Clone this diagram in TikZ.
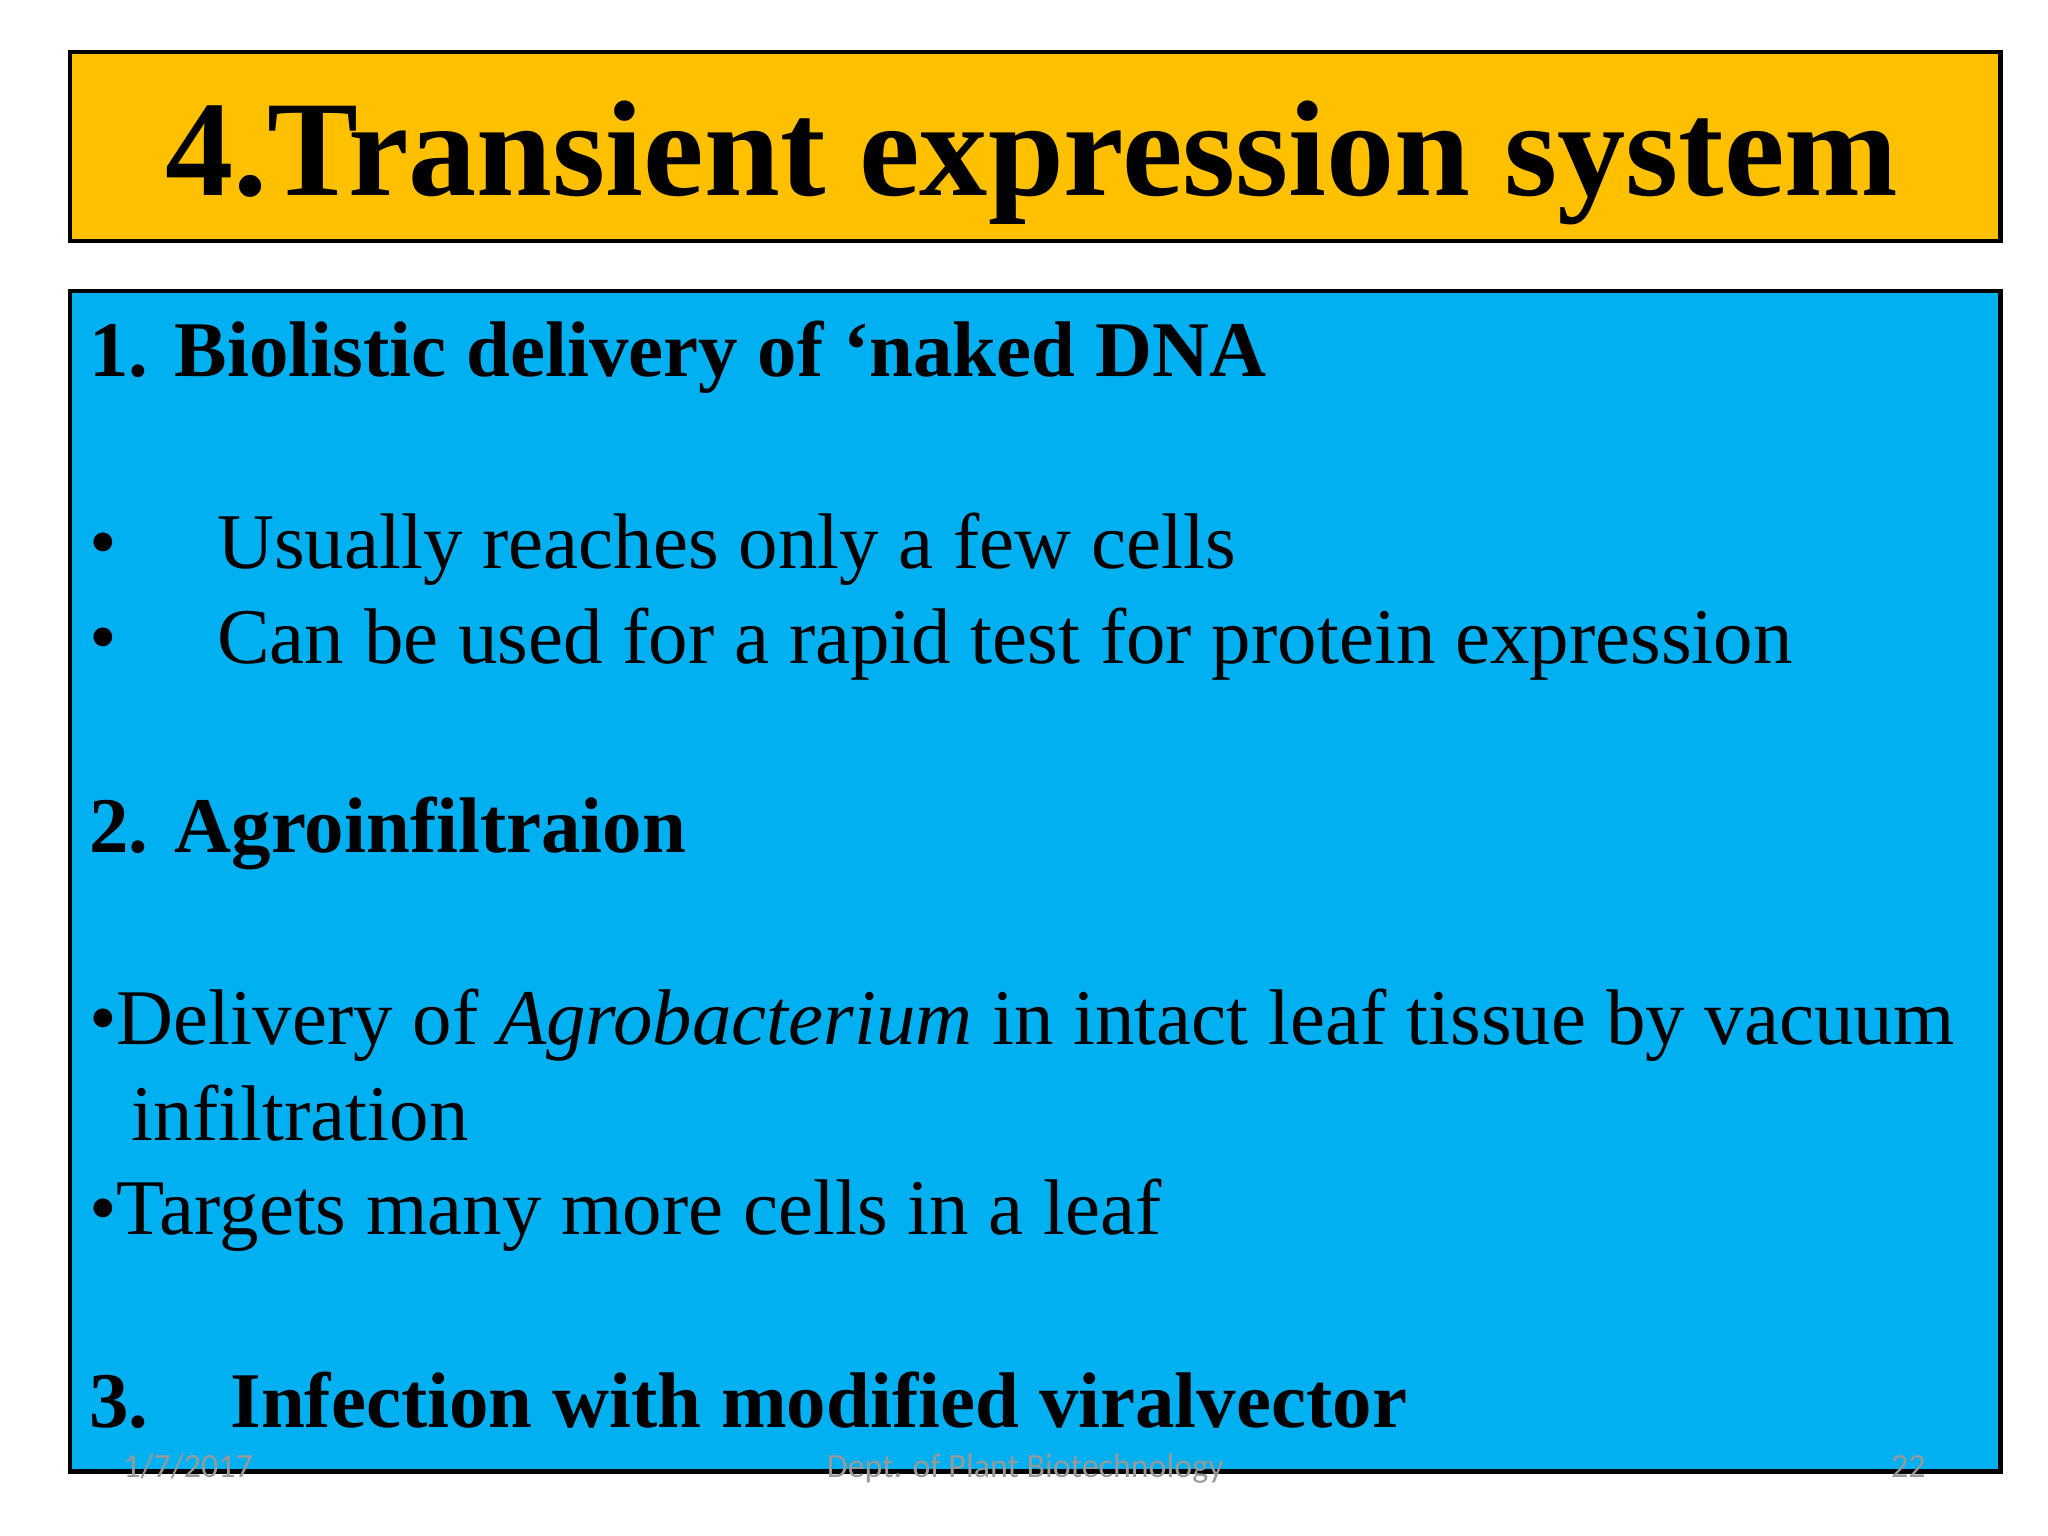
\documentclass[tikz,border=0pt]{standalone}
\usepackage{fontspec}
\setmainfont{Liberation Serif}
\newfontfamily\footfont{Carlito}
\definecolor{gold}{HTML}{FFC000}
\definecolor{sky}{HTML}{00B0F0}
\begin{document}
\begin{tikzpicture}[x=0.5pt,y=-0.5pt,
  txt/.style={anchor=base west,inner sep=0pt,font=\fontsize{30.2}{36}\selectfont},
  hd/.style={txt,font=\bfseries\fontsize{30.2}{36}\selectfont},
  foot/.style={anchor=base,inner sep=0pt,text=gray!80,font=\footfont\fontsize{13}{15}\selectfont}]
\useasboundingbox[fill=white] (0,0) rectangle (1568,1176);
\node[draw=black,line width=1.6pt,fill=gold,minimum width=739pt,minimum height=72.5pt,inner sep=0pt,anchor=north west] (title) at (52,38) {};
\node[anchor=base,inner sep=0pt,font=\bfseries\fontsize{52.2}{60}\selectfont] (tt) at (790,150) {4.Transient expression system};
\node[draw=black,line width=1.6pt,fill=sky,minimum width=739pt,minimum height=452pt,inner sep=0pt,anchor=north west] (body) at (52,221) {};
\node[hd] (h1) at (68,288) {1. Biolistic delivery of ‘naked DNA};
\node[txt] (b1) at (68,435) {•};
\node[txt] (t1) at (166,435) {Usually reaches only a few cells};
\node[txt] (b2) at (68,508) {•};
\node[txt] (t2) at (166,508) {Can be used for a rapid test for protein expression};
\node[hd] (h2) at (68,653) {2. Agroinfiltraion};
\node[txt] (t3) at (68,800) {•Delivery of \textit{Agrobacterium} in intact leaf tissue by vacuum};
\node[txt] (t4) at (100,873) {infiltration};
\node[txt] (t5) at (68,945) {•Targets many more cells in a leaf};
\node[hd] (h3) at (68,1093) {3.};
\node[hd] (h3b) at (176,1093) {Infection with modified viralvector};
\node[foot] (f1) at (144,1131) {1/7/2017};
\node[foot] (f2) at (785,1131) {Dept. of Plant Biotechnology};
\node[foot] (f3) at (1461,1131) {22};
\end{tikzpicture}
\end{document}
